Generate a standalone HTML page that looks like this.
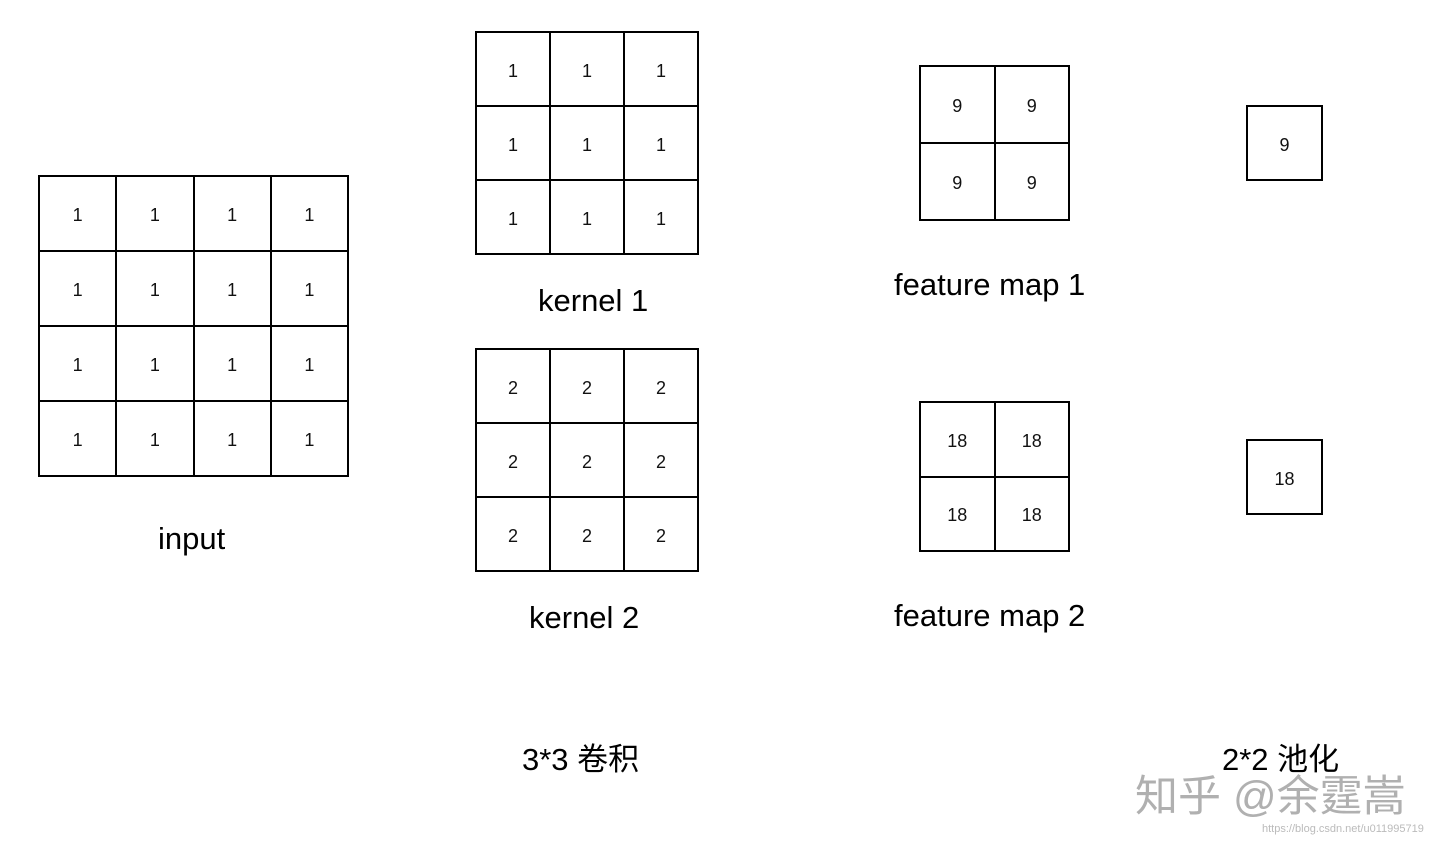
<!DOCTYPE html>
<html><head><meta charset="utf-8"><style>
body{margin:0;width:1440px;height:844px;background:#fff;position:relative;overflow:hidden;font-family:"Liberation Sans","Noto Sans CJK SC",sans-serif;}
.g{position:absolute;border-collapse:collapse;}
.g td{border:2px solid #000;text-align:center;vertical-align:middle;font-size:18px;padding:4px 0 0 0;color:#111;}
.l{position:absolute;font-size:31px;color:#000;white-space:nowrap;}
</style></head><body>
<table class="g" style="left:38px;top:175px;width:311px;height:302px">
<tr><td>1</td><td>1</td><td>1</td><td>1</td></tr>
<tr><td>1</td><td>1</td><td>1</td><td>1</td></tr>
<tr><td>1</td><td>1</td><td>1</td><td>1</td></tr>
<tr><td>1</td><td>1</td><td>1</td><td>1</td></tr>
</table>
<table class="g" style="left:475px;top:31px;width:224px;height:224px">
<tr><td>1</td><td>1</td><td>1</td></tr>
<tr><td>1</td><td>1</td><td>1</td></tr>
<tr><td>1</td><td>1</td><td>1</td></tr>
</table>
<table class="g" style="left:475px;top:348px;width:224px;height:224px">
<tr><td>2</td><td>2</td><td>2</td></tr>
<tr><td>2</td><td>2</td><td>2</td></tr>
<tr><td>2</td><td>2</td><td>2</td></tr>
</table>
<table class="g" style="left:919px;top:65px;width:151px;height:156px">
<tr><td>9</td><td>9</td></tr><tr><td>9</td><td>9</td></tr>
</table>
<table class="g" style="left:919px;top:401px;width:151px;height:151px">
<tr><td>18</td><td>18</td></tr><tr><td>18</td><td>18</td></tr>
</table>
<table class="g" style="left:1246px;top:105px;width:77px;height:76px"><tr><td>9</td></tr></table>
<table class="g" style="left:1246px;top:439px;width:77px;height:76px"><tr><td>18</td></tr></table>
<div class="l" style="left:158px;top:521px">input</div>
<div class="l" style="left:538px;top:283px">kernel 1</div>
<div class="l" style="left:529px;top:600px">kernel 2</div>
<div class="l" style="left:894px;top:267px">feature map 1</div>
<div class="l" style="left:894px;top:598px">feature map 2</div>
<div class="l" style="left:522px;top:734px">3*3 卷积</div>
<div class="l" style="left:1222px;top:734px">2*2 池化</div>
<div class="l" style="left:1135px;top:762px;font-size:43px;color:rgba(150,150,150,0.75)">知乎 @余霆嵩</div>
<div class="l" style="left:1262px;top:823px;font-size:11px;color:#bbb">https://blog.csdn.net/u011995719</div>
</body></html>
